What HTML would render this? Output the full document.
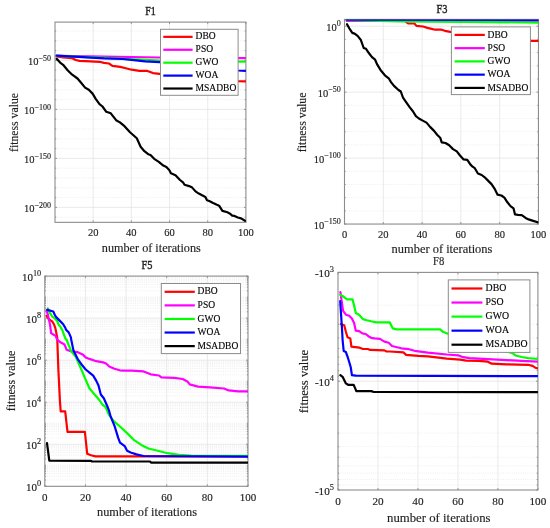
<!DOCTYPE html>
<html><head><meta charset="utf-8"><style>html,body{margin:0;padding:0;background:#fff;}svg{display:block;will-change:transform;}</style></head>
<body>
<svg width="550" height="528" viewBox="0 0 550 528" font-family='"Liberation Serif", serif'>
<style>text{stroke:#1e1e1e;stroke-width:0.15px;paint-order:stroke;}</style>
<rect width="550" height="528" fill="#ffffff"/>
<defs>
<clipPath id="c1"><rect x="55.0" y="22.1" width="190.90" height="200.25"/></clipPath>
<clipPath id="c3"><rect x="344.5" y="19.4" width="193.95" height="204.65"/></clipPath>
<clipPath id="c5"><rect x="44.8" y="276.1" width="203.20" height="210.20"/></clipPath>
<clipPath id="c8"><rect x="338.0" y="272.4" width="199.90" height="217.60"/></clipPath>
</defs>
<line x1="55.0" y1="31.00" x2="245.9" y2="31.00" stroke="#ebebeb" stroke-width="0.8" stroke-dasharray="1,1.2"/>
<line x1="55.0" y1="40.80" x2="245.9" y2="40.80" stroke="#ebebeb" stroke-width="0.8" stroke-dasharray="1,1.2"/>
<line x1="55.0" y1="50.60" x2="245.9" y2="50.60" stroke="#ebebeb" stroke-width="0.8" stroke-dasharray="1,1.2"/>
<line x1="55.0" y1="70.20" x2="245.9" y2="70.20" stroke="#ebebeb" stroke-width="0.8" stroke-dasharray="1,1.2"/>
<line x1="55.0" y1="80.00" x2="245.9" y2="80.00" stroke="#ebebeb" stroke-width="0.8" stroke-dasharray="1,1.2"/>
<line x1="55.0" y1="89.80" x2="245.9" y2="89.80" stroke="#ebebeb" stroke-width="0.8" stroke-dasharray="1,1.2"/>
<line x1="55.0" y1="99.60" x2="245.9" y2="99.60" stroke="#ebebeb" stroke-width="0.8" stroke-dasharray="1,1.2"/>
<line x1="55.0" y1="119.20" x2="245.9" y2="119.20" stroke="#ebebeb" stroke-width="0.8" stroke-dasharray="1,1.2"/>
<line x1="55.0" y1="129.00" x2="245.9" y2="129.00" stroke="#ebebeb" stroke-width="0.8" stroke-dasharray="1,1.2"/>
<line x1="55.0" y1="138.80" x2="245.9" y2="138.80" stroke="#ebebeb" stroke-width="0.8" stroke-dasharray="1,1.2"/>
<line x1="55.0" y1="148.60" x2="245.9" y2="148.60" stroke="#ebebeb" stroke-width="0.8" stroke-dasharray="1,1.2"/>
<line x1="55.0" y1="168.20" x2="245.9" y2="168.20" stroke="#ebebeb" stroke-width="0.8" stroke-dasharray="1,1.2"/>
<line x1="55.0" y1="178.00" x2="245.9" y2="178.00" stroke="#ebebeb" stroke-width="0.8" stroke-dasharray="1,1.2"/>
<line x1="55.0" y1="187.80" x2="245.9" y2="187.80" stroke="#ebebeb" stroke-width="0.8" stroke-dasharray="1,1.2"/>
<line x1="55.0" y1="197.60" x2="245.9" y2="197.60" stroke="#ebebeb" stroke-width="0.8" stroke-dasharray="1,1.2"/>
<line x1="55.0" y1="217.20" x2="245.9" y2="217.20" stroke="#ebebeb" stroke-width="0.8" stroke-dasharray="1,1.2"/>
<line x1="55.0" y1="60.40" x2="245.9" y2="60.40" stroke="#e4e4e4" stroke-width="0.8"/>
<line x1="55.0" y1="109.40" x2="245.9" y2="109.40" stroke="#e4e4e4" stroke-width="0.8"/>
<line x1="55.0" y1="158.40" x2="245.9" y2="158.40" stroke="#e4e4e4" stroke-width="0.8"/>
<line x1="55.0" y1="207.40" x2="245.9" y2="207.40" stroke="#e4e4e4" stroke-width="0.8"/>
<line x1="93.18" y1="22.1" x2="93.18" y2="222.35" stroke="#e4e4e4" stroke-width="0.8"/>
<line x1="131.36" y1="22.1" x2="131.36" y2="222.35" stroke="#e4e4e4" stroke-width="0.8"/>
<line x1="169.54" y1="22.1" x2="169.54" y2="222.35" stroke="#e4e4e4" stroke-width="0.8"/>
<line x1="207.72" y1="22.1" x2="207.72" y2="222.35" stroke="#e4e4e4" stroke-width="0.8"/>
<line x1="55.0" y1="60.40" x2="57.0" y2="60.40" stroke="#8c8c8c" stroke-width="0.9"/>
<line x1="245.9" y1="60.40" x2="243.9" y2="60.40" stroke="#8c8c8c" stroke-width="0.9"/>
<line x1="55.0" y1="109.40" x2="57.0" y2="109.40" stroke="#8c8c8c" stroke-width="0.9"/>
<line x1="245.9" y1="109.40" x2="243.9" y2="109.40" stroke="#8c8c8c" stroke-width="0.9"/>
<line x1="55.0" y1="158.40" x2="57.0" y2="158.40" stroke="#8c8c8c" stroke-width="0.9"/>
<line x1="245.9" y1="158.40" x2="243.9" y2="158.40" stroke="#8c8c8c" stroke-width="0.9"/>
<line x1="55.0" y1="207.40" x2="57.0" y2="207.40" stroke="#8c8c8c" stroke-width="0.9"/>
<line x1="245.9" y1="207.40" x2="243.9" y2="207.40" stroke="#8c8c8c" stroke-width="0.9"/>
<line x1="55.0" y1="31.00" x2="56.2" y2="31.00" stroke="#8c8c8c" stroke-width="0.9"/>
<line x1="245.9" y1="31.00" x2="244.70000000000002" y2="31.00" stroke="#8c8c8c" stroke-width="0.9"/>
<line x1="55.0" y1="40.80" x2="56.2" y2="40.80" stroke="#8c8c8c" stroke-width="0.9"/>
<line x1="245.9" y1="40.80" x2="244.70000000000002" y2="40.80" stroke="#8c8c8c" stroke-width="0.9"/>
<line x1="55.0" y1="50.60" x2="56.2" y2="50.60" stroke="#8c8c8c" stroke-width="0.9"/>
<line x1="245.9" y1="50.60" x2="244.70000000000002" y2="50.60" stroke="#8c8c8c" stroke-width="0.9"/>
<line x1="55.0" y1="70.20" x2="56.2" y2="70.20" stroke="#8c8c8c" stroke-width="0.9"/>
<line x1="245.9" y1="70.20" x2="244.70000000000002" y2="70.20" stroke="#8c8c8c" stroke-width="0.9"/>
<line x1="55.0" y1="80.00" x2="56.2" y2="80.00" stroke="#8c8c8c" stroke-width="0.9"/>
<line x1="245.9" y1="80.00" x2="244.70000000000002" y2="80.00" stroke="#8c8c8c" stroke-width="0.9"/>
<line x1="55.0" y1="89.80" x2="56.2" y2="89.80" stroke="#8c8c8c" stroke-width="0.9"/>
<line x1="245.9" y1="89.80" x2="244.70000000000002" y2="89.80" stroke="#8c8c8c" stroke-width="0.9"/>
<line x1="55.0" y1="99.60" x2="56.2" y2="99.60" stroke="#8c8c8c" stroke-width="0.9"/>
<line x1="245.9" y1="99.60" x2="244.70000000000002" y2="99.60" stroke="#8c8c8c" stroke-width="0.9"/>
<line x1="55.0" y1="119.20" x2="56.2" y2="119.20" stroke="#8c8c8c" stroke-width="0.9"/>
<line x1="245.9" y1="119.20" x2="244.70000000000002" y2="119.20" stroke="#8c8c8c" stroke-width="0.9"/>
<line x1="55.0" y1="129.00" x2="56.2" y2="129.00" stroke="#8c8c8c" stroke-width="0.9"/>
<line x1="245.9" y1="129.00" x2="244.70000000000002" y2="129.00" stroke="#8c8c8c" stroke-width="0.9"/>
<line x1="55.0" y1="138.80" x2="56.2" y2="138.80" stroke="#8c8c8c" stroke-width="0.9"/>
<line x1="245.9" y1="138.80" x2="244.70000000000002" y2="138.80" stroke="#8c8c8c" stroke-width="0.9"/>
<line x1="55.0" y1="148.60" x2="56.2" y2="148.60" stroke="#8c8c8c" stroke-width="0.9"/>
<line x1="245.9" y1="148.60" x2="244.70000000000002" y2="148.60" stroke="#8c8c8c" stroke-width="0.9"/>
<line x1="55.0" y1="168.20" x2="56.2" y2="168.20" stroke="#8c8c8c" stroke-width="0.9"/>
<line x1="245.9" y1="168.20" x2="244.70000000000002" y2="168.20" stroke="#8c8c8c" stroke-width="0.9"/>
<line x1="55.0" y1="178.00" x2="56.2" y2="178.00" stroke="#8c8c8c" stroke-width="0.9"/>
<line x1="245.9" y1="178.00" x2="244.70000000000002" y2="178.00" stroke="#8c8c8c" stroke-width="0.9"/>
<line x1="55.0" y1="187.80" x2="56.2" y2="187.80" stroke="#8c8c8c" stroke-width="0.9"/>
<line x1="245.9" y1="187.80" x2="244.70000000000002" y2="187.80" stroke="#8c8c8c" stroke-width="0.9"/>
<line x1="55.0" y1="197.60" x2="56.2" y2="197.60" stroke="#8c8c8c" stroke-width="0.9"/>
<line x1="245.9" y1="197.60" x2="244.70000000000002" y2="197.60" stroke="#8c8c8c" stroke-width="0.9"/>
<line x1="55.0" y1="217.20" x2="56.2" y2="217.20" stroke="#8c8c8c" stroke-width="0.9"/>
<line x1="245.9" y1="217.20" x2="244.70000000000002" y2="217.20" stroke="#8c8c8c" stroke-width="0.9"/>
<line x1="93.18" y1="222.35" x2="93.18" y2="220.35" stroke="#8c8c8c" stroke-width="0.9"/>
<line x1="93.18" y1="22.1" x2="93.18" y2="24.1" stroke="#8c8c8c" stroke-width="0.9"/>
<line x1="131.36" y1="222.35" x2="131.36" y2="220.35" stroke="#8c8c8c" stroke-width="0.9"/>
<line x1="131.36" y1="22.1" x2="131.36" y2="24.1" stroke="#8c8c8c" stroke-width="0.9"/>
<line x1="169.54" y1="222.35" x2="169.54" y2="220.35" stroke="#8c8c8c" stroke-width="0.9"/>
<line x1="169.54" y1="22.1" x2="169.54" y2="24.1" stroke="#8c8c8c" stroke-width="0.9"/>
<line x1="207.72" y1="222.35" x2="207.72" y2="220.35" stroke="#8c8c8c" stroke-width="0.9"/>
<line x1="207.72" y1="22.1" x2="207.72" y2="24.1" stroke="#8c8c8c" stroke-width="0.9"/>
<line x1="245.90" y1="222.35" x2="245.90" y2="220.35" stroke="#8c8c8c" stroke-width="0.9"/>
<line x1="245.90" y1="22.1" x2="245.90" y2="24.1" stroke="#8c8c8c" stroke-width="0.9"/>
<rect x="55.0" y="22.1" width="190.90" height="200.25" fill="none" stroke="#8c8c8c" stroke-width="1.1"/>
<g clip-path="url(#c1)" fill="none" stroke-width="2.2" stroke-linejoin="round" stroke-linecap="round">
<polyline points="56.7,56.5 63.1,57.3 72.2,58.2 75.8,60.0 79.5,60.9 90.4,61.4 99.5,61.8 104.0,62.9 109.0,63.5 112.4,65.8 120.3,66.9 124.8,68.0 131.6,69.7 139.5,70.9 147.4,70.9 153.0,73.1 159.8,73.9 238.0,81.2 245.7,81.4" stroke="#ff0000"/>
<polyline points="56.7,55.8 90.0,56.4 160.0,57.5 245.7,58.1" stroke="#ff00ff"/>
<polyline points="56.7,55.9 100.0,57.6 160.0,60.7 245.7,61.7" stroke="#00ff00"/>
<polyline points="56.7,55.6 104.0,58.4 122.5,59.0 133.8,60.1 145.1,61.3 159.8,62.2 238.0,70.5 245.7,70.8" stroke="#0000ff"/>
<polyline points="56.7,58.8 60.1,62.6 63.1,64.8 67.6,70.2 72.2,74.7 77.5,78.5 81.3,83.0 85.1,87.6 88.8,89.8 92.6,93.6 95.7,98.9 99.5,104.2 102.5,106.5 106.3,111.8 110.8,113.3 116.1,120.2 119.9,122.4 124.5,126.2 130.0,132.3 136.8,138.3 140.6,146.7 144.4,151.2 148.2,154.2 150.5,155.0 154.2,158.8 158.8,161.8 163.3,165.6 166.4,167.1 169.4,170.2 170.9,173.2 175.5,175.2 180.0,180.0 183.0,182.3 184.5,184.8 189.1,186.1 192.2,187.6 195.5,191.4 198.8,193.6 202.1,195.3 205.4,196.9 207.0,200.2 209.2,201.0 213.1,203.0 216.4,204.6 219.1,205.7 222.4,210.9 227.4,212.3 229.6,213.4 232.3,215.6 234.5,215.9 237.8,217.5 241.1,218.4 245.0,220.8" stroke="#000000"/>
</g>
<rect x="160.5" y="29.3" width="77.60" height="66.00" fill="#ffffff" stroke="#8c8c8c" stroke-width="1"/>
<line x1="163.3" y1="36.85" x2="192.6" y2="36.85" stroke="#ff0000" stroke-width="2.2"/>
<text x="195.6" y="39.05" font-size="9.5" fill="#000">DBO</text>
<line x1="163.3" y1="49.77" x2="192.6" y2="49.77" stroke="#ff00ff" stroke-width="2.2"/>
<text x="195.6" y="51.97" font-size="9.5" fill="#000">PSO</text>
<line x1="163.3" y1="62.69" x2="192.6" y2="62.69" stroke="#00ff00" stroke-width="2.2"/>
<text x="195.6" y="64.89" font-size="9.5" fill="#000">GWO</text>
<line x1="163.3" y1="75.61" x2="192.6" y2="75.61" stroke="#0000ff" stroke-width="2.2"/>
<text x="195.6" y="77.81" font-size="9.5" fill="#000">WOA</text>
<line x1="163.3" y1="88.53" x2="192.6" y2="88.53" stroke="#000000" stroke-width="2.2"/>
<text x="195.6" y="90.73" font-size="9.5" fill="#000">MSADBO</text>
<text x="93.18" y="236.2" text-anchor="middle" font-size="10.5" fill="#1e1e1e">20</text>
<text x="131.36" y="236.2" text-anchor="middle" font-size="10.5" fill="#1e1e1e">40</text>
<text x="169.54" y="236.2" text-anchor="middle" font-size="10.5" fill="#1e1e1e">60</text>
<text x="207.72" y="236.2" text-anchor="middle" font-size="10.5" fill="#1e1e1e">80</text>
<text x="245.90" y="236.2" text-anchor="middle" font-size="10.5" fill="#1e1e1e">100</text>
<text x="50.9" y="65.10" text-anchor="end" font-size="10.5" fill="#1e1e1e">10<tspan dy="-4.6" font-size="8">−50</tspan></text>
<text x="50.9" y="114.10" text-anchor="end" font-size="10.5" fill="#1e1e1e">10<tspan dy="-4.6" font-size="8">−100</tspan></text>
<text x="50.9" y="163.10" text-anchor="end" font-size="10.5" fill="#1e1e1e">10<tspan dy="-4.6" font-size="8">−150</tspan></text>
<text x="50.9" y="212.10" text-anchor="end" font-size="10.5" fill="#1e1e1e">10<tspan dy="-4.6" font-size="8">−200</tspan></text>
<text x="101.80" y="251.5" font-size="12" textLength="99" lengthAdjust="spacingAndGlyphs" fill="#1e1e1e">number of iterations</text>
<text transform="translate(18,122.5) rotate(-90)" x="-29.50" y="0" font-size="12" textLength="59" lengthAdjust="spacingAndGlyphs" fill="#1e1e1e">fitness value</text>
<text transform="translate(150.5,15.3) scale(0.86,1)" text-anchor="middle" font-size="11.6" font-weight="normal" fill="#1e1e1e" style="stroke-width:0.4px">F1</text>
<line x1="344.5" y1="39.39" x2="538.45" y2="39.39" stroke="#ebebeb" stroke-width="0.8" stroke-dasharray="1,1.2"/>
<line x1="344.5" y1="52.58" x2="538.45" y2="52.58" stroke="#ebebeb" stroke-width="0.8" stroke-dasharray="1,1.2"/>
<line x1="344.5" y1="65.77" x2="538.45" y2="65.77" stroke="#ebebeb" stroke-width="0.8" stroke-dasharray="1,1.2"/>
<line x1="344.5" y1="78.96" x2="538.45" y2="78.96" stroke="#ebebeb" stroke-width="0.8" stroke-dasharray="1,1.2"/>
<line x1="344.5" y1="105.34" x2="538.45" y2="105.34" stroke="#ebebeb" stroke-width="0.8" stroke-dasharray="1,1.2"/>
<line x1="344.5" y1="118.53" x2="538.45" y2="118.53" stroke="#ebebeb" stroke-width="0.8" stroke-dasharray="1,1.2"/>
<line x1="344.5" y1="131.72" x2="538.45" y2="131.72" stroke="#ebebeb" stroke-width="0.8" stroke-dasharray="1,1.2"/>
<line x1="344.5" y1="144.91" x2="538.45" y2="144.91" stroke="#ebebeb" stroke-width="0.8" stroke-dasharray="1,1.2"/>
<line x1="344.5" y1="171.29" x2="538.45" y2="171.29" stroke="#ebebeb" stroke-width="0.8" stroke-dasharray="1,1.2"/>
<line x1="344.5" y1="184.48" x2="538.45" y2="184.48" stroke="#ebebeb" stroke-width="0.8" stroke-dasharray="1,1.2"/>
<line x1="344.5" y1="197.67" x2="538.45" y2="197.67" stroke="#ebebeb" stroke-width="0.8" stroke-dasharray="1,1.2"/>
<line x1="344.5" y1="210.86" x2="538.45" y2="210.86" stroke="#ebebeb" stroke-width="0.8" stroke-dasharray="1,1.2"/>
<line x1="344.5" y1="26.20" x2="538.45" y2="26.20" stroke="#e4e4e4" stroke-width="0.8"/>
<line x1="344.5" y1="92.15" x2="538.45" y2="92.15" stroke="#e4e4e4" stroke-width="0.8"/>
<line x1="344.5" y1="158.10" x2="538.45" y2="158.10" stroke="#e4e4e4" stroke-width="0.8"/>
<line x1="383.29" y1="19.4" x2="383.29" y2="224.05" stroke="#e4e4e4" stroke-width="0.8"/>
<line x1="422.08" y1="19.4" x2="422.08" y2="224.05" stroke="#e4e4e4" stroke-width="0.8"/>
<line x1="460.87" y1="19.4" x2="460.87" y2="224.05" stroke="#e4e4e4" stroke-width="0.8"/>
<line x1="499.66" y1="19.4" x2="499.66" y2="224.05" stroke="#e4e4e4" stroke-width="0.8"/>
<line x1="344.5" y1="26.20" x2="346.5" y2="26.20" stroke="#8c8c8c" stroke-width="0.9"/>
<line x1="538.45" y1="26.20" x2="536.45" y2="26.20" stroke="#8c8c8c" stroke-width="0.9"/>
<line x1="344.5" y1="92.15" x2="346.5" y2="92.15" stroke="#8c8c8c" stroke-width="0.9"/>
<line x1="538.45" y1="92.15" x2="536.45" y2="92.15" stroke="#8c8c8c" stroke-width="0.9"/>
<line x1="344.5" y1="158.10" x2="346.5" y2="158.10" stroke="#8c8c8c" stroke-width="0.9"/>
<line x1="538.45" y1="158.10" x2="536.45" y2="158.10" stroke="#8c8c8c" stroke-width="0.9"/>
<line x1="344.5" y1="224.05" x2="346.5" y2="224.05" stroke="#8c8c8c" stroke-width="0.9"/>
<line x1="538.45" y1="224.05" x2="536.45" y2="224.05" stroke="#8c8c8c" stroke-width="0.9"/>
<line x1="344.5" y1="39.39" x2="345.7" y2="39.39" stroke="#8c8c8c" stroke-width="0.9"/>
<line x1="538.45" y1="39.39" x2="537.25" y2="39.39" stroke="#8c8c8c" stroke-width="0.9"/>
<line x1="344.5" y1="52.58" x2="345.7" y2="52.58" stroke="#8c8c8c" stroke-width="0.9"/>
<line x1="538.45" y1="52.58" x2="537.25" y2="52.58" stroke="#8c8c8c" stroke-width="0.9"/>
<line x1="344.5" y1="65.77" x2="345.7" y2="65.77" stroke="#8c8c8c" stroke-width="0.9"/>
<line x1="538.45" y1="65.77" x2="537.25" y2="65.77" stroke="#8c8c8c" stroke-width="0.9"/>
<line x1="344.5" y1="78.96" x2="345.7" y2="78.96" stroke="#8c8c8c" stroke-width="0.9"/>
<line x1="538.45" y1="78.96" x2="537.25" y2="78.96" stroke="#8c8c8c" stroke-width="0.9"/>
<line x1="344.5" y1="105.34" x2="345.7" y2="105.34" stroke="#8c8c8c" stroke-width="0.9"/>
<line x1="538.45" y1="105.34" x2="537.25" y2="105.34" stroke="#8c8c8c" stroke-width="0.9"/>
<line x1="344.5" y1="118.53" x2="345.7" y2="118.53" stroke="#8c8c8c" stroke-width="0.9"/>
<line x1="538.45" y1="118.53" x2="537.25" y2="118.53" stroke="#8c8c8c" stroke-width="0.9"/>
<line x1="344.5" y1="131.72" x2="345.7" y2="131.72" stroke="#8c8c8c" stroke-width="0.9"/>
<line x1="538.45" y1="131.72" x2="537.25" y2="131.72" stroke="#8c8c8c" stroke-width="0.9"/>
<line x1="344.5" y1="144.91" x2="345.7" y2="144.91" stroke="#8c8c8c" stroke-width="0.9"/>
<line x1="538.45" y1="144.91" x2="537.25" y2="144.91" stroke="#8c8c8c" stroke-width="0.9"/>
<line x1="344.5" y1="171.29" x2="345.7" y2="171.29" stroke="#8c8c8c" stroke-width="0.9"/>
<line x1="538.45" y1="171.29" x2="537.25" y2="171.29" stroke="#8c8c8c" stroke-width="0.9"/>
<line x1="344.5" y1="184.48" x2="345.7" y2="184.48" stroke="#8c8c8c" stroke-width="0.9"/>
<line x1="538.45" y1="184.48" x2="537.25" y2="184.48" stroke="#8c8c8c" stroke-width="0.9"/>
<line x1="344.5" y1="197.67" x2="345.7" y2="197.67" stroke="#8c8c8c" stroke-width="0.9"/>
<line x1="538.45" y1="197.67" x2="537.25" y2="197.67" stroke="#8c8c8c" stroke-width="0.9"/>
<line x1="344.5" y1="210.86" x2="345.7" y2="210.86" stroke="#8c8c8c" stroke-width="0.9"/>
<line x1="538.45" y1="210.86" x2="537.25" y2="210.86" stroke="#8c8c8c" stroke-width="0.9"/>
<line x1="344.50" y1="224.05" x2="344.50" y2="222.05" stroke="#8c8c8c" stroke-width="0.9"/>
<line x1="344.50" y1="19.4" x2="344.50" y2="21.4" stroke="#8c8c8c" stroke-width="0.9"/>
<line x1="383.29" y1="224.05" x2="383.29" y2="222.05" stroke="#8c8c8c" stroke-width="0.9"/>
<line x1="383.29" y1="19.4" x2="383.29" y2="21.4" stroke="#8c8c8c" stroke-width="0.9"/>
<line x1="422.08" y1="224.05" x2="422.08" y2="222.05" stroke="#8c8c8c" stroke-width="0.9"/>
<line x1="422.08" y1="19.4" x2="422.08" y2="21.4" stroke="#8c8c8c" stroke-width="0.9"/>
<line x1="460.87" y1="224.05" x2="460.87" y2="222.05" stroke="#8c8c8c" stroke-width="0.9"/>
<line x1="460.87" y1="19.4" x2="460.87" y2="21.4" stroke="#8c8c8c" stroke-width="0.9"/>
<line x1="499.66" y1="224.05" x2="499.66" y2="222.05" stroke="#8c8c8c" stroke-width="0.9"/>
<line x1="499.66" y1="19.4" x2="499.66" y2="21.4" stroke="#8c8c8c" stroke-width="0.9"/>
<line x1="538.45" y1="224.05" x2="538.45" y2="222.05" stroke="#8c8c8c" stroke-width="0.9"/>
<line x1="538.45" y1="19.4" x2="538.45" y2="21.4" stroke="#8c8c8c" stroke-width="0.9"/>
<rect x="344.5" y="19.4" width="193.95" height="204.65" fill="none" stroke="#8c8c8c" stroke-width="1.1"/>
<g clip-path="url(#c3)" fill="none" stroke-width="2.2" stroke-linejoin="round" stroke-linecap="round">
<polyline points="346.7,20.7 405.3,20.9 406.2,22.1 408.4,23.5 414.4,23.5 416.5,25.9 423.1,26.5 427.4,27.9 430.7,28.6 435.1,29.7 441.6,29.7 444.9,30.8 450.3,31.9 452.0,32.1 532.0,40.9 538.5,40.9" stroke="#ff0000"/>
<polyline points="346.7,20.6 465.0,20.8 538.5,21.2" stroke="#ff00ff"/>
<polyline points="346.7,19.9 380.0,20.8 400.0,21.3 465.0,21.8 538.5,22.6" stroke="#00ff00"/>
<polyline points="346.7,19.6 538.5,19.9" stroke="#0000ff"/>
<polyline points="347.0,24.2 349.3,28.3 352.3,32.9 354.6,33.6 357.6,35.9 360.7,39.7 363.7,48.0 366.0,48.8 369.0,53.3 372.0,57.1 375.1,59.7 377.3,64.7 381.1,70.8 384.9,75.3 388.7,78.3 391.0,82.1 394.0,85.9 398.5,90.0 400.8,91.5 403.0,97.6 406.1,102.1 409.8,107.4 412.9,111.2 415.9,116.1 418.9,118.5 422.7,120.6 426.5,122.6 430.3,127.1 434.1,130.9 437.1,134.7 440.2,137.7 441.7,142.3 445.5,143.0 449.2,145.3 453.0,149.1 456.8,151.4 459.8,155.2 463.6,159.4 467.3,159.8 470.3,164.4 472.6,166.7 474.8,168.2 477.9,173.5 481.7,175.0 484.7,177.3 488.5,181.1 491.5,184.1 494.5,188.6 497.6,194.7 501.4,195.5 504.4,197.7 507.4,202.3 510.5,206.1 513.5,208.3 515.0,214.4 518.0,214.8 521.8,215.2 525.6,217.9 528.6,219.4 533.2,220.9 537.7,222.3" stroke="#000000"/>
</g>
<rect x="451.4" y="26.9" width="79.00" height="67.70" fill="#ffffff" stroke="#8c8c8c" stroke-width="1"/>
<line x1="454.6" y1="34.90" x2="484.8" y2="34.90" stroke="#ff0000" stroke-width="2.2"/>
<text x="487.6" y="37.70" font-size="9.5" fill="#000">DBO</text>
<line x1="454.6" y1="48.15" x2="484.8" y2="48.15" stroke="#ff00ff" stroke-width="2.2"/>
<text x="487.6" y="50.95" font-size="9.5" fill="#000">PSO</text>
<line x1="454.6" y1="61.40" x2="484.8" y2="61.40" stroke="#00ff00" stroke-width="2.2"/>
<text x="487.6" y="64.20" font-size="9.5" fill="#000">GWO</text>
<line x1="454.6" y1="74.65" x2="484.8" y2="74.65" stroke="#0000ff" stroke-width="2.2"/>
<text x="487.6" y="77.45" font-size="9.5" fill="#000">WOA</text>
<line x1="454.6" y1="87.90" x2="484.8" y2="87.90" stroke="#000000" stroke-width="2.2"/>
<text x="487.6" y="90.70" font-size="9.5" fill="#000">MSADBO</text>
<text x="344.50" y="238.1" text-anchor="middle" font-size="10.5" fill="#1e1e1e">0</text>
<text x="383.29" y="238.1" text-anchor="middle" font-size="10.5" fill="#1e1e1e">20</text>
<text x="422.08" y="238.1" text-anchor="middle" font-size="10.5" fill="#1e1e1e">40</text>
<text x="460.87" y="238.1" text-anchor="middle" font-size="10.5" fill="#1e1e1e">60</text>
<text x="499.66" y="238.1" text-anchor="middle" font-size="10.5" fill="#1e1e1e">80</text>
<text x="538.45" y="238.1" text-anchor="middle" font-size="10.5" fill="#1e1e1e">100</text>
<text x="340.8" y="30.90" text-anchor="end" font-size="10.5" fill="#1e1e1e">10<tspan dy="-4.6" font-size="8">0</tspan></text>
<text x="340.8" y="96.85" text-anchor="end" font-size="10.5" fill="#1e1e1e">10<tspan dy="-4.6" font-size="8">−50</tspan></text>
<text x="340.8" y="162.80" text-anchor="end" font-size="10.5" fill="#1e1e1e">10<tspan dy="-4.6" font-size="8">−100</tspan></text>
<text x="340.8" y="228.75" text-anchor="end" font-size="10.5" fill="#1e1e1e">10<tspan dy="-4.6" font-size="8">−150</tspan></text>
<text x="391.60" y="252.9" font-size="12" textLength="100.8" lengthAdjust="spacingAndGlyphs" fill="#1e1e1e">number of iterations</text>
<text transform="translate(305.5,122.3) rotate(-90)" x="-29.85" y="0" font-size="12" textLength="59.7" lengthAdjust="spacingAndGlyphs" fill="#1e1e1e">fitness value</text>
<text transform="translate(442,13.0) scale(0.88,1)" text-anchor="middle" font-size="11.8" font-weight="normal" fill="#1e1e1e" style="stroke-width:0.4px">F3</text>
<line x1="44.8" y1="479.97" x2="248.0" y2="479.97" stroke="#ebebeb" stroke-width="0.8" stroke-dasharray="1,1.2"/>
<line x1="44.8" y1="476.27" x2="248.0" y2="476.27" stroke="#ebebeb" stroke-width="0.8" stroke-dasharray="1,1.2"/>
<line x1="44.8" y1="473.64" x2="248.0" y2="473.64" stroke="#ebebeb" stroke-width="0.8" stroke-dasharray="1,1.2"/>
<line x1="44.8" y1="471.61" x2="248.0" y2="471.61" stroke="#ebebeb" stroke-width="0.8" stroke-dasharray="1,1.2"/>
<line x1="44.8" y1="469.94" x2="248.0" y2="469.94" stroke="#ebebeb" stroke-width="0.8" stroke-dasharray="1,1.2"/>
<line x1="44.8" y1="468.54" x2="248.0" y2="468.54" stroke="#ebebeb" stroke-width="0.8" stroke-dasharray="1,1.2"/>
<line x1="44.8" y1="467.32" x2="248.0" y2="467.32" stroke="#ebebeb" stroke-width="0.8" stroke-dasharray="1,1.2"/>
<line x1="44.8" y1="466.24" x2="248.0" y2="466.24" stroke="#ebebeb" stroke-width="0.8" stroke-dasharray="1,1.2"/>
<line x1="44.8" y1="458.95" x2="248.0" y2="458.95" stroke="#ebebeb" stroke-width="0.8" stroke-dasharray="1,1.2"/>
<line x1="44.8" y1="455.25" x2="248.0" y2="455.25" stroke="#ebebeb" stroke-width="0.8" stroke-dasharray="1,1.2"/>
<line x1="44.8" y1="452.62" x2="248.0" y2="452.62" stroke="#ebebeb" stroke-width="0.8" stroke-dasharray="1,1.2"/>
<line x1="44.8" y1="450.59" x2="248.0" y2="450.59" stroke="#ebebeb" stroke-width="0.8" stroke-dasharray="1,1.2"/>
<line x1="44.8" y1="448.92" x2="248.0" y2="448.92" stroke="#ebebeb" stroke-width="0.8" stroke-dasharray="1,1.2"/>
<line x1="44.8" y1="447.52" x2="248.0" y2="447.52" stroke="#ebebeb" stroke-width="0.8" stroke-dasharray="1,1.2"/>
<line x1="44.8" y1="446.30" x2="248.0" y2="446.30" stroke="#ebebeb" stroke-width="0.8" stroke-dasharray="1,1.2"/>
<line x1="44.8" y1="445.22" x2="248.0" y2="445.22" stroke="#ebebeb" stroke-width="0.8" stroke-dasharray="1,1.2"/>
<line x1="44.8" y1="465.28" x2="248.0" y2="465.28" stroke="#ebebeb" stroke-width="0.8" stroke-dasharray="1,1.2"/>
<line x1="44.8" y1="437.93" x2="248.0" y2="437.93" stroke="#ebebeb" stroke-width="0.8" stroke-dasharray="1,1.2"/>
<line x1="44.8" y1="434.23" x2="248.0" y2="434.23" stroke="#ebebeb" stroke-width="0.8" stroke-dasharray="1,1.2"/>
<line x1="44.8" y1="431.60" x2="248.0" y2="431.60" stroke="#ebebeb" stroke-width="0.8" stroke-dasharray="1,1.2"/>
<line x1="44.8" y1="429.57" x2="248.0" y2="429.57" stroke="#ebebeb" stroke-width="0.8" stroke-dasharray="1,1.2"/>
<line x1="44.8" y1="427.90" x2="248.0" y2="427.90" stroke="#ebebeb" stroke-width="0.8" stroke-dasharray="1,1.2"/>
<line x1="44.8" y1="426.50" x2="248.0" y2="426.50" stroke="#ebebeb" stroke-width="0.8" stroke-dasharray="1,1.2"/>
<line x1="44.8" y1="425.28" x2="248.0" y2="425.28" stroke="#ebebeb" stroke-width="0.8" stroke-dasharray="1,1.2"/>
<line x1="44.8" y1="424.20" x2="248.0" y2="424.20" stroke="#ebebeb" stroke-width="0.8" stroke-dasharray="1,1.2"/>
<line x1="44.8" y1="416.91" x2="248.0" y2="416.91" stroke="#ebebeb" stroke-width="0.8" stroke-dasharray="1,1.2"/>
<line x1="44.8" y1="413.21" x2="248.0" y2="413.21" stroke="#ebebeb" stroke-width="0.8" stroke-dasharray="1,1.2"/>
<line x1="44.8" y1="410.58" x2="248.0" y2="410.58" stroke="#ebebeb" stroke-width="0.8" stroke-dasharray="1,1.2"/>
<line x1="44.8" y1="408.55" x2="248.0" y2="408.55" stroke="#ebebeb" stroke-width="0.8" stroke-dasharray="1,1.2"/>
<line x1="44.8" y1="406.88" x2="248.0" y2="406.88" stroke="#ebebeb" stroke-width="0.8" stroke-dasharray="1,1.2"/>
<line x1="44.8" y1="405.48" x2="248.0" y2="405.48" stroke="#ebebeb" stroke-width="0.8" stroke-dasharray="1,1.2"/>
<line x1="44.8" y1="404.26" x2="248.0" y2="404.26" stroke="#ebebeb" stroke-width="0.8" stroke-dasharray="1,1.2"/>
<line x1="44.8" y1="403.18" x2="248.0" y2="403.18" stroke="#ebebeb" stroke-width="0.8" stroke-dasharray="1,1.2"/>
<line x1="44.8" y1="423.24" x2="248.0" y2="423.24" stroke="#ebebeb" stroke-width="0.8" stroke-dasharray="1,1.2"/>
<line x1="44.8" y1="395.89" x2="248.0" y2="395.89" stroke="#ebebeb" stroke-width="0.8" stroke-dasharray="1,1.2"/>
<line x1="44.8" y1="392.19" x2="248.0" y2="392.19" stroke="#ebebeb" stroke-width="0.8" stroke-dasharray="1,1.2"/>
<line x1="44.8" y1="389.56" x2="248.0" y2="389.56" stroke="#ebebeb" stroke-width="0.8" stroke-dasharray="1,1.2"/>
<line x1="44.8" y1="387.53" x2="248.0" y2="387.53" stroke="#ebebeb" stroke-width="0.8" stroke-dasharray="1,1.2"/>
<line x1="44.8" y1="385.86" x2="248.0" y2="385.86" stroke="#ebebeb" stroke-width="0.8" stroke-dasharray="1,1.2"/>
<line x1="44.8" y1="384.46" x2="248.0" y2="384.46" stroke="#ebebeb" stroke-width="0.8" stroke-dasharray="1,1.2"/>
<line x1="44.8" y1="383.24" x2="248.0" y2="383.24" stroke="#ebebeb" stroke-width="0.8" stroke-dasharray="1,1.2"/>
<line x1="44.8" y1="382.16" x2="248.0" y2="382.16" stroke="#ebebeb" stroke-width="0.8" stroke-dasharray="1,1.2"/>
<line x1="44.8" y1="374.87" x2="248.0" y2="374.87" stroke="#ebebeb" stroke-width="0.8" stroke-dasharray="1,1.2"/>
<line x1="44.8" y1="371.17" x2="248.0" y2="371.17" stroke="#ebebeb" stroke-width="0.8" stroke-dasharray="1,1.2"/>
<line x1="44.8" y1="368.54" x2="248.0" y2="368.54" stroke="#ebebeb" stroke-width="0.8" stroke-dasharray="1,1.2"/>
<line x1="44.8" y1="366.51" x2="248.0" y2="366.51" stroke="#ebebeb" stroke-width="0.8" stroke-dasharray="1,1.2"/>
<line x1="44.8" y1="364.84" x2="248.0" y2="364.84" stroke="#ebebeb" stroke-width="0.8" stroke-dasharray="1,1.2"/>
<line x1="44.8" y1="363.44" x2="248.0" y2="363.44" stroke="#ebebeb" stroke-width="0.8" stroke-dasharray="1,1.2"/>
<line x1="44.8" y1="362.22" x2="248.0" y2="362.22" stroke="#ebebeb" stroke-width="0.8" stroke-dasharray="1,1.2"/>
<line x1="44.8" y1="361.14" x2="248.0" y2="361.14" stroke="#ebebeb" stroke-width="0.8" stroke-dasharray="1,1.2"/>
<line x1="44.8" y1="381.20" x2="248.0" y2="381.20" stroke="#ebebeb" stroke-width="0.8" stroke-dasharray="1,1.2"/>
<line x1="44.8" y1="353.85" x2="248.0" y2="353.85" stroke="#ebebeb" stroke-width="0.8" stroke-dasharray="1,1.2"/>
<line x1="44.8" y1="350.15" x2="248.0" y2="350.15" stroke="#ebebeb" stroke-width="0.8" stroke-dasharray="1,1.2"/>
<line x1="44.8" y1="347.52" x2="248.0" y2="347.52" stroke="#ebebeb" stroke-width="0.8" stroke-dasharray="1,1.2"/>
<line x1="44.8" y1="345.49" x2="248.0" y2="345.49" stroke="#ebebeb" stroke-width="0.8" stroke-dasharray="1,1.2"/>
<line x1="44.8" y1="343.82" x2="248.0" y2="343.82" stroke="#ebebeb" stroke-width="0.8" stroke-dasharray="1,1.2"/>
<line x1="44.8" y1="342.42" x2="248.0" y2="342.42" stroke="#ebebeb" stroke-width="0.8" stroke-dasharray="1,1.2"/>
<line x1="44.8" y1="341.20" x2="248.0" y2="341.20" stroke="#ebebeb" stroke-width="0.8" stroke-dasharray="1,1.2"/>
<line x1="44.8" y1="340.12" x2="248.0" y2="340.12" stroke="#ebebeb" stroke-width="0.8" stroke-dasharray="1,1.2"/>
<line x1="44.8" y1="332.83" x2="248.0" y2="332.83" stroke="#ebebeb" stroke-width="0.8" stroke-dasharray="1,1.2"/>
<line x1="44.8" y1="329.13" x2="248.0" y2="329.13" stroke="#ebebeb" stroke-width="0.8" stroke-dasharray="1,1.2"/>
<line x1="44.8" y1="326.50" x2="248.0" y2="326.50" stroke="#ebebeb" stroke-width="0.8" stroke-dasharray="1,1.2"/>
<line x1="44.8" y1="324.47" x2="248.0" y2="324.47" stroke="#ebebeb" stroke-width="0.8" stroke-dasharray="1,1.2"/>
<line x1="44.8" y1="322.80" x2="248.0" y2="322.80" stroke="#ebebeb" stroke-width="0.8" stroke-dasharray="1,1.2"/>
<line x1="44.8" y1="321.40" x2="248.0" y2="321.40" stroke="#ebebeb" stroke-width="0.8" stroke-dasharray="1,1.2"/>
<line x1="44.8" y1="320.18" x2="248.0" y2="320.18" stroke="#ebebeb" stroke-width="0.8" stroke-dasharray="1,1.2"/>
<line x1="44.8" y1="319.10" x2="248.0" y2="319.10" stroke="#ebebeb" stroke-width="0.8" stroke-dasharray="1,1.2"/>
<line x1="44.8" y1="339.16" x2="248.0" y2="339.16" stroke="#ebebeb" stroke-width="0.8" stroke-dasharray="1,1.2"/>
<line x1="44.8" y1="311.81" x2="248.0" y2="311.81" stroke="#ebebeb" stroke-width="0.8" stroke-dasharray="1,1.2"/>
<line x1="44.8" y1="308.11" x2="248.0" y2="308.11" stroke="#ebebeb" stroke-width="0.8" stroke-dasharray="1,1.2"/>
<line x1="44.8" y1="305.48" x2="248.0" y2="305.48" stroke="#ebebeb" stroke-width="0.8" stroke-dasharray="1,1.2"/>
<line x1="44.8" y1="303.45" x2="248.0" y2="303.45" stroke="#ebebeb" stroke-width="0.8" stroke-dasharray="1,1.2"/>
<line x1="44.8" y1="301.78" x2="248.0" y2="301.78" stroke="#ebebeb" stroke-width="0.8" stroke-dasharray="1,1.2"/>
<line x1="44.8" y1="300.38" x2="248.0" y2="300.38" stroke="#ebebeb" stroke-width="0.8" stroke-dasharray="1,1.2"/>
<line x1="44.8" y1="299.16" x2="248.0" y2="299.16" stroke="#ebebeb" stroke-width="0.8" stroke-dasharray="1,1.2"/>
<line x1="44.8" y1="298.08" x2="248.0" y2="298.08" stroke="#ebebeb" stroke-width="0.8" stroke-dasharray="1,1.2"/>
<line x1="44.8" y1="290.79" x2="248.0" y2="290.79" stroke="#ebebeb" stroke-width="0.8" stroke-dasharray="1,1.2"/>
<line x1="44.8" y1="287.09" x2="248.0" y2="287.09" stroke="#ebebeb" stroke-width="0.8" stroke-dasharray="1,1.2"/>
<line x1="44.8" y1="284.46" x2="248.0" y2="284.46" stroke="#ebebeb" stroke-width="0.8" stroke-dasharray="1,1.2"/>
<line x1="44.8" y1="282.43" x2="248.0" y2="282.43" stroke="#ebebeb" stroke-width="0.8" stroke-dasharray="1,1.2"/>
<line x1="44.8" y1="280.76" x2="248.0" y2="280.76" stroke="#ebebeb" stroke-width="0.8" stroke-dasharray="1,1.2"/>
<line x1="44.8" y1="279.36" x2="248.0" y2="279.36" stroke="#ebebeb" stroke-width="0.8" stroke-dasharray="1,1.2"/>
<line x1="44.8" y1="278.14" x2="248.0" y2="278.14" stroke="#ebebeb" stroke-width="0.8" stroke-dasharray="1,1.2"/>
<line x1="44.8" y1="277.06" x2="248.0" y2="277.06" stroke="#ebebeb" stroke-width="0.8" stroke-dasharray="1,1.2"/>
<line x1="44.8" y1="297.12" x2="248.0" y2="297.12" stroke="#ebebeb" stroke-width="0.8" stroke-dasharray="1,1.2"/>
<line x1="44.8" y1="318.14" x2="248.0" y2="318.14" stroke="#e4e4e4" stroke-width="0.8"/>
<line x1="44.8" y1="360.18" x2="248.0" y2="360.18" stroke="#e4e4e4" stroke-width="0.8"/>
<line x1="44.8" y1="402.22" x2="248.0" y2="402.22" stroke="#e4e4e4" stroke-width="0.8"/>
<line x1="44.8" y1="444.26" x2="248.0" y2="444.26" stroke="#e4e4e4" stroke-width="0.8"/>
<line x1="85.44" y1="276.1" x2="85.44" y2="486.3" stroke="#e4e4e4" stroke-width="0.8"/>
<line x1="126.08" y1="276.1" x2="126.08" y2="486.3" stroke="#e4e4e4" stroke-width="0.8"/>
<line x1="166.72" y1="276.1" x2="166.72" y2="486.3" stroke="#e4e4e4" stroke-width="0.8"/>
<line x1="207.36" y1="276.1" x2="207.36" y2="486.3" stroke="#e4e4e4" stroke-width="0.8"/>
<line x1="44.8" y1="276.10" x2="46.8" y2="276.10" stroke="#8c8c8c" stroke-width="0.9"/>
<line x1="248.0" y1="276.10" x2="246.0" y2="276.10" stroke="#8c8c8c" stroke-width="0.9"/>
<line x1="44.8" y1="318.14" x2="46.8" y2="318.14" stroke="#8c8c8c" stroke-width="0.9"/>
<line x1="248.0" y1="318.14" x2="246.0" y2="318.14" stroke="#8c8c8c" stroke-width="0.9"/>
<line x1="44.8" y1="360.18" x2="46.8" y2="360.18" stroke="#8c8c8c" stroke-width="0.9"/>
<line x1="248.0" y1="360.18" x2="246.0" y2="360.18" stroke="#8c8c8c" stroke-width="0.9"/>
<line x1="44.8" y1="402.22" x2="46.8" y2="402.22" stroke="#8c8c8c" stroke-width="0.9"/>
<line x1="248.0" y1="402.22" x2="246.0" y2="402.22" stroke="#8c8c8c" stroke-width="0.9"/>
<line x1="44.8" y1="444.26" x2="46.8" y2="444.26" stroke="#8c8c8c" stroke-width="0.9"/>
<line x1="248.0" y1="444.26" x2="246.0" y2="444.26" stroke="#8c8c8c" stroke-width="0.9"/>
<line x1="44.8" y1="486.30" x2="46.8" y2="486.30" stroke="#8c8c8c" stroke-width="0.9"/>
<line x1="248.0" y1="486.30" x2="246.0" y2="486.30" stroke="#8c8c8c" stroke-width="0.9"/>
<line x1="44.8" y1="479.97" x2="46.0" y2="479.97" stroke="#8c8c8c" stroke-width="0.9"/>
<line x1="248.0" y1="479.97" x2="246.8" y2="479.97" stroke="#8c8c8c" stroke-width="0.9"/>
<line x1="44.8" y1="476.27" x2="46.0" y2="476.27" stroke="#8c8c8c" stroke-width="0.9"/>
<line x1="248.0" y1="476.27" x2="246.8" y2="476.27" stroke="#8c8c8c" stroke-width="0.9"/>
<line x1="44.8" y1="473.64" x2="46.0" y2="473.64" stroke="#8c8c8c" stroke-width="0.9"/>
<line x1="248.0" y1="473.64" x2="246.8" y2="473.64" stroke="#8c8c8c" stroke-width="0.9"/>
<line x1="44.8" y1="471.61" x2="46.0" y2="471.61" stroke="#8c8c8c" stroke-width="0.9"/>
<line x1="248.0" y1="471.61" x2="246.8" y2="471.61" stroke="#8c8c8c" stroke-width="0.9"/>
<line x1="44.8" y1="469.94" x2="46.0" y2="469.94" stroke="#8c8c8c" stroke-width="0.9"/>
<line x1="248.0" y1="469.94" x2="246.8" y2="469.94" stroke="#8c8c8c" stroke-width="0.9"/>
<line x1="44.8" y1="468.54" x2="46.0" y2="468.54" stroke="#8c8c8c" stroke-width="0.9"/>
<line x1="248.0" y1="468.54" x2="246.8" y2="468.54" stroke="#8c8c8c" stroke-width="0.9"/>
<line x1="44.8" y1="467.32" x2="46.0" y2="467.32" stroke="#8c8c8c" stroke-width="0.9"/>
<line x1="248.0" y1="467.32" x2="246.8" y2="467.32" stroke="#8c8c8c" stroke-width="0.9"/>
<line x1="44.8" y1="466.24" x2="46.0" y2="466.24" stroke="#8c8c8c" stroke-width="0.9"/>
<line x1="248.0" y1="466.24" x2="246.8" y2="466.24" stroke="#8c8c8c" stroke-width="0.9"/>
<line x1="44.8" y1="458.95" x2="46.0" y2="458.95" stroke="#8c8c8c" stroke-width="0.9"/>
<line x1="248.0" y1="458.95" x2="246.8" y2="458.95" stroke="#8c8c8c" stroke-width="0.9"/>
<line x1="44.8" y1="455.25" x2="46.0" y2="455.25" stroke="#8c8c8c" stroke-width="0.9"/>
<line x1="248.0" y1="455.25" x2="246.8" y2="455.25" stroke="#8c8c8c" stroke-width="0.9"/>
<line x1="44.8" y1="452.62" x2="46.0" y2="452.62" stroke="#8c8c8c" stroke-width="0.9"/>
<line x1="248.0" y1="452.62" x2="246.8" y2="452.62" stroke="#8c8c8c" stroke-width="0.9"/>
<line x1="44.8" y1="450.59" x2="46.0" y2="450.59" stroke="#8c8c8c" stroke-width="0.9"/>
<line x1="248.0" y1="450.59" x2="246.8" y2="450.59" stroke="#8c8c8c" stroke-width="0.9"/>
<line x1="44.8" y1="448.92" x2="46.0" y2="448.92" stroke="#8c8c8c" stroke-width="0.9"/>
<line x1="248.0" y1="448.92" x2="246.8" y2="448.92" stroke="#8c8c8c" stroke-width="0.9"/>
<line x1="44.8" y1="447.52" x2="46.0" y2="447.52" stroke="#8c8c8c" stroke-width="0.9"/>
<line x1="248.0" y1="447.52" x2="246.8" y2="447.52" stroke="#8c8c8c" stroke-width="0.9"/>
<line x1="44.8" y1="446.30" x2="46.0" y2="446.30" stroke="#8c8c8c" stroke-width="0.9"/>
<line x1="248.0" y1="446.30" x2="246.8" y2="446.30" stroke="#8c8c8c" stroke-width="0.9"/>
<line x1="44.8" y1="445.22" x2="46.0" y2="445.22" stroke="#8c8c8c" stroke-width="0.9"/>
<line x1="248.0" y1="445.22" x2="246.8" y2="445.22" stroke="#8c8c8c" stroke-width="0.9"/>
<line x1="44.8" y1="465.28" x2="46.0" y2="465.28" stroke="#8c8c8c" stroke-width="0.9"/>
<line x1="248.0" y1="465.28" x2="246.8" y2="465.28" stroke="#8c8c8c" stroke-width="0.9"/>
<line x1="44.8" y1="437.93" x2="46.0" y2="437.93" stroke="#8c8c8c" stroke-width="0.9"/>
<line x1="248.0" y1="437.93" x2="246.8" y2="437.93" stroke="#8c8c8c" stroke-width="0.9"/>
<line x1="44.8" y1="434.23" x2="46.0" y2="434.23" stroke="#8c8c8c" stroke-width="0.9"/>
<line x1="248.0" y1="434.23" x2="246.8" y2="434.23" stroke="#8c8c8c" stroke-width="0.9"/>
<line x1="44.8" y1="431.60" x2="46.0" y2="431.60" stroke="#8c8c8c" stroke-width="0.9"/>
<line x1="248.0" y1="431.60" x2="246.8" y2="431.60" stroke="#8c8c8c" stroke-width="0.9"/>
<line x1="44.8" y1="429.57" x2="46.0" y2="429.57" stroke="#8c8c8c" stroke-width="0.9"/>
<line x1="248.0" y1="429.57" x2="246.8" y2="429.57" stroke="#8c8c8c" stroke-width="0.9"/>
<line x1="44.8" y1="427.90" x2="46.0" y2="427.90" stroke="#8c8c8c" stroke-width="0.9"/>
<line x1="248.0" y1="427.90" x2="246.8" y2="427.90" stroke="#8c8c8c" stroke-width="0.9"/>
<line x1="44.8" y1="426.50" x2="46.0" y2="426.50" stroke="#8c8c8c" stroke-width="0.9"/>
<line x1="248.0" y1="426.50" x2="246.8" y2="426.50" stroke="#8c8c8c" stroke-width="0.9"/>
<line x1="44.8" y1="425.28" x2="46.0" y2="425.28" stroke="#8c8c8c" stroke-width="0.9"/>
<line x1="248.0" y1="425.28" x2="246.8" y2="425.28" stroke="#8c8c8c" stroke-width="0.9"/>
<line x1="44.8" y1="424.20" x2="46.0" y2="424.20" stroke="#8c8c8c" stroke-width="0.9"/>
<line x1="248.0" y1="424.20" x2="246.8" y2="424.20" stroke="#8c8c8c" stroke-width="0.9"/>
<line x1="44.8" y1="416.91" x2="46.0" y2="416.91" stroke="#8c8c8c" stroke-width="0.9"/>
<line x1="248.0" y1="416.91" x2="246.8" y2="416.91" stroke="#8c8c8c" stroke-width="0.9"/>
<line x1="44.8" y1="413.21" x2="46.0" y2="413.21" stroke="#8c8c8c" stroke-width="0.9"/>
<line x1="248.0" y1="413.21" x2="246.8" y2="413.21" stroke="#8c8c8c" stroke-width="0.9"/>
<line x1="44.8" y1="410.58" x2="46.0" y2="410.58" stroke="#8c8c8c" stroke-width="0.9"/>
<line x1="248.0" y1="410.58" x2="246.8" y2="410.58" stroke="#8c8c8c" stroke-width="0.9"/>
<line x1="44.8" y1="408.55" x2="46.0" y2="408.55" stroke="#8c8c8c" stroke-width="0.9"/>
<line x1="248.0" y1="408.55" x2="246.8" y2="408.55" stroke="#8c8c8c" stroke-width="0.9"/>
<line x1="44.8" y1="406.88" x2="46.0" y2="406.88" stroke="#8c8c8c" stroke-width="0.9"/>
<line x1="248.0" y1="406.88" x2="246.8" y2="406.88" stroke="#8c8c8c" stroke-width="0.9"/>
<line x1="44.8" y1="405.48" x2="46.0" y2="405.48" stroke="#8c8c8c" stroke-width="0.9"/>
<line x1="248.0" y1="405.48" x2="246.8" y2="405.48" stroke="#8c8c8c" stroke-width="0.9"/>
<line x1="44.8" y1="404.26" x2="46.0" y2="404.26" stroke="#8c8c8c" stroke-width="0.9"/>
<line x1="248.0" y1="404.26" x2="246.8" y2="404.26" stroke="#8c8c8c" stroke-width="0.9"/>
<line x1="44.8" y1="403.18" x2="46.0" y2="403.18" stroke="#8c8c8c" stroke-width="0.9"/>
<line x1="248.0" y1="403.18" x2="246.8" y2="403.18" stroke="#8c8c8c" stroke-width="0.9"/>
<line x1="44.8" y1="423.24" x2="46.0" y2="423.24" stroke="#8c8c8c" stroke-width="0.9"/>
<line x1="248.0" y1="423.24" x2="246.8" y2="423.24" stroke="#8c8c8c" stroke-width="0.9"/>
<line x1="44.8" y1="395.89" x2="46.0" y2="395.89" stroke="#8c8c8c" stroke-width="0.9"/>
<line x1="248.0" y1="395.89" x2="246.8" y2="395.89" stroke="#8c8c8c" stroke-width="0.9"/>
<line x1="44.8" y1="392.19" x2="46.0" y2="392.19" stroke="#8c8c8c" stroke-width="0.9"/>
<line x1="248.0" y1="392.19" x2="246.8" y2="392.19" stroke="#8c8c8c" stroke-width="0.9"/>
<line x1="44.8" y1="389.56" x2="46.0" y2="389.56" stroke="#8c8c8c" stroke-width="0.9"/>
<line x1="248.0" y1="389.56" x2="246.8" y2="389.56" stroke="#8c8c8c" stroke-width="0.9"/>
<line x1="44.8" y1="387.53" x2="46.0" y2="387.53" stroke="#8c8c8c" stroke-width="0.9"/>
<line x1="248.0" y1="387.53" x2="246.8" y2="387.53" stroke="#8c8c8c" stroke-width="0.9"/>
<line x1="44.8" y1="385.86" x2="46.0" y2="385.86" stroke="#8c8c8c" stroke-width="0.9"/>
<line x1="248.0" y1="385.86" x2="246.8" y2="385.86" stroke="#8c8c8c" stroke-width="0.9"/>
<line x1="44.8" y1="384.46" x2="46.0" y2="384.46" stroke="#8c8c8c" stroke-width="0.9"/>
<line x1="248.0" y1="384.46" x2="246.8" y2="384.46" stroke="#8c8c8c" stroke-width="0.9"/>
<line x1="44.8" y1="383.24" x2="46.0" y2="383.24" stroke="#8c8c8c" stroke-width="0.9"/>
<line x1="248.0" y1="383.24" x2="246.8" y2="383.24" stroke="#8c8c8c" stroke-width="0.9"/>
<line x1="44.8" y1="382.16" x2="46.0" y2="382.16" stroke="#8c8c8c" stroke-width="0.9"/>
<line x1="248.0" y1="382.16" x2="246.8" y2="382.16" stroke="#8c8c8c" stroke-width="0.9"/>
<line x1="44.8" y1="374.87" x2="46.0" y2="374.87" stroke="#8c8c8c" stroke-width="0.9"/>
<line x1="248.0" y1="374.87" x2="246.8" y2="374.87" stroke="#8c8c8c" stroke-width="0.9"/>
<line x1="44.8" y1="371.17" x2="46.0" y2="371.17" stroke="#8c8c8c" stroke-width="0.9"/>
<line x1="248.0" y1="371.17" x2="246.8" y2="371.17" stroke="#8c8c8c" stroke-width="0.9"/>
<line x1="44.8" y1="368.54" x2="46.0" y2="368.54" stroke="#8c8c8c" stroke-width="0.9"/>
<line x1="248.0" y1="368.54" x2="246.8" y2="368.54" stroke="#8c8c8c" stroke-width="0.9"/>
<line x1="44.8" y1="366.51" x2="46.0" y2="366.51" stroke="#8c8c8c" stroke-width="0.9"/>
<line x1="248.0" y1="366.51" x2="246.8" y2="366.51" stroke="#8c8c8c" stroke-width="0.9"/>
<line x1="44.8" y1="364.84" x2="46.0" y2="364.84" stroke="#8c8c8c" stroke-width="0.9"/>
<line x1="248.0" y1="364.84" x2="246.8" y2="364.84" stroke="#8c8c8c" stroke-width="0.9"/>
<line x1="44.8" y1="363.44" x2="46.0" y2="363.44" stroke="#8c8c8c" stroke-width="0.9"/>
<line x1="248.0" y1="363.44" x2="246.8" y2="363.44" stroke="#8c8c8c" stroke-width="0.9"/>
<line x1="44.8" y1="362.22" x2="46.0" y2="362.22" stroke="#8c8c8c" stroke-width="0.9"/>
<line x1="248.0" y1="362.22" x2="246.8" y2="362.22" stroke="#8c8c8c" stroke-width="0.9"/>
<line x1="44.8" y1="361.14" x2="46.0" y2="361.14" stroke="#8c8c8c" stroke-width="0.9"/>
<line x1="248.0" y1="361.14" x2="246.8" y2="361.14" stroke="#8c8c8c" stroke-width="0.9"/>
<line x1="44.8" y1="381.20" x2="46.0" y2="381.20" stroke="#8c8c8c" stroke-width="0.9"/>
<line x1="248.0" y1="381.20" x2="246.8" y2="381.20" stroke="#8c8c8c" stroke-width="0.9"/>
<line x1="44.8" y1="353.85" x2="46.0" y2="353.85" stroke="#8c8c8c" stroke-width="0.9"/>
<line x1="248.0" y1="353.85" x2="246.8" y2="353.85" stroke="#8c8c8c" stroke-width="0.9"/>
<line x1="44.8" y1="350.15" x2="46.0" y2="350.15" stroke="#8c8c8c" stroke-width="0.9"/>
<line x1="248.0" y1="350.15" x2="246.8" y2="350.15" stroke="#8c8c8c" stroke-width="0.9"/>
<line x1="44.8" y1="347.52" x2="46.0" y2="347.52" stroke="#8c8c8c" stroke-width="0.9"/>
<line x1="248.0" y1="347.52" x2="246.8" y2="347.52" stroke="#8c8c8c" stroke-width="0.9"/>
<line x1="44.8" y1="345.49" x2="46.0" y2="345.49" stroke="#8c8c8c" stroke-width="0.9"/>
<line x1="248.0" y1="345.49" x2="246.8" y2="345.49" stroke="#8c8c8c" stroke-width="0.9"/>
<line x1="44.8" y1="343.82" x2="46.0" y2="343.82" stroke="#8c8c8c" stroke-width="0.9"/>
<line x1="248.0" y1="343.82" x2="246.8" y2="343.82" stroke="#8c8c8c" stroke-width="0.9"/>
<line x1="44.8" y1="342.42" x2="46.0" y2="342.42" stroke="#8c8c8c" stroke-width="0.9"/>
<line x1="248.0" y1="342.42" x2="246.8" y2="342.42" stroke="#8c8c8c" stroke-width="0.9"/>
<line x1="44.8" y1="341.20" x2="46.0" y2="341.20" stroke="#8c8c8c" stroke-width="0.9"/>
<line x1="248.0" y1="341.20" x2="246.8" y2="341.20" stroke="#8c8c8c" stroke-width="0.9"/>
<line x1="44.8" y1="340.12" x2="46.0" y2="340.12" stroke="#8c8c8c" stroke-width="0.9"/>
<line x1="248.0" y1="340.12" x2="246.8" y2="340.12" stroke="#8c8c8c" stroke-width="0.9"/>
<line x1="44.8" y1="332.83" x2="46.0" y2="332.83" stroke="#8c8c8c" stroke-width="0.9"/>
<line x1="248.0" y1="332.83" x2="246.8" y2="332.83" stroke="#8c8c8c" stroke-width="0.9"/>
<line x1="44.8" y1="329.13" x2="46.0" y2="329.13" stroke="#8c8c8c" stroke-width="0.9"/>
<line x1="248.0" y1="329.13" x2="246.8" y2="329.13" stroke="#8c8c8c" stroke-width="0.9"/>
<line x1="44.8" y1="326.50" x2="46.0" y2="326.50" stroke="#8c8c8c" stroke-width="0.9"/>
<line x1="248.0" y1="326.50" x2="246.8" y2="326.50" stroke="#8c8c8c" stroke-width="0.9"/>
<line x1="44.8" y1="324.47" x2="46.0" y2="324.47" stroke="#8c8c8c" stroke-width="0.9"/>
<line x1="248.0" y1="324.47" x2="246.8" y2="324.47" stroke="#8c8c8c" stroke-width="0.9"/>
<line x1="44.8" y1="322.80" x2="46.0" y2="322.80" stroke="#8c8c8c" stroke-width="0.9"/>
<line x1="248.0" y1="322.80" x2="246.8" y2="322.80" stroke="#8c8c8c" stroke-width="0.9"/>
<line x1="44.8" y1="321.40" x2="46.0" y2="321.40" stroke="#8c8c8c" stroke-width="0.9"/>
<line x1="248.0" y1="321.40" x2="246.8" y2="321.40" stroke="#8c8c8c" stroke-width="0.9"/>
<line x1="44.8" y1="320.18" x2="46.0" y2="320.18" stroke="#8c8c8c" stroke-width="0.9"/>
<line x1="248.0" y1="320.18" x2="246.8" y2="320.18" stroke="#8c8c8c" stroke-width="0.9"/>
<line x1="44.8" y1="319.10" x2="46.0" y2="319.10" stroke="#8c8c8c" stroke-width="0.9"/>
<line x1="248.0" y1="319.10" x2="246.8" y2="319.10" stroke="#8c8c8c" stroke-width="0.9"/>
<line x1="44.8" y1="339.16" x2="46.0" y2="339.16" stroke="#8c8c8c" stroke-width="0.9"/>
<line x1="248.0" y1="339.16" x2="246.8" y2="339.16" stroke="#8c8c8c" stroke-width="0.9"/>
<line x1="44.8" y1="311.81" x2="46.0" y2="311.81" stroke="#8c8c8c" stroke-width="0.9"/>
<line x1="248.0" y1="311.81" x2="246.8" y2="311.81" stroke="#8c8c8c" stroke-width="0.9"/>
<line x1="44.8" y1="308.11" x2="46.0" y2="308.11" stroke="#8c8c8c" stroke-width="0.9"/>
<line x1="248.0" y1="308.11" x2="246.8" y2="308.11" stroke="#8c8c8c" stroke-width="0.9"/>
<line x1="44.8" y1="305.48" x2="46.0" y2="305.48" stroke="#8c8c8c" stroke-width="0.9"/>
<line x1="248.0" y1="305.48" x2="246.8" y2="305.48" stroke="#8c8c8c" stroke-width="0.9"/>
<line x1="44.8" y1="303.45" x2="46.0" y2="303.45" stroke="#8c8c8c" stroke-width="0.9"/>
<line x1="248.0" y1="303.45" x2="246.8" y2="303.45" stroke="#8c8c8c" stroke-width="0.9"/>
<line x1="44.8" y1="301.78" x2="46.0" y2="301.78" stroke="#8c8c8c" stroke-width="0.9"/>
<line x1="248.0" y1="301.78" x2="246.8" y2="301.78" stroke="#8c8c8c" stroke-width="0.9"/>
<line x1="44.8" y1="300.38" x2="46.0" y2="300.38" stroke="#8c8c8c" stroke-width="0.9"/>
<line x1="248.0" y1="300.38" x2="246.8" y2="300.38" stroke="#8c8c8c" stroke-width="0.9"/>
<line x1="44.8" y1="299.16" x2="46.0" y2="299.16" stroke="#8c8c8c" stroke-width="0.9"/>
<line x1="248.0" y1="299.16" x2="246.8" y2="299.16" stroke="#8c8c8c" stroke-width="0.9"/>
<line x1="44.8" y1="298.08" x2="46.0" y2="298.08" stroke="#8c8c8c" stroke-width="0.9"/>
<line x1="248.0" y1="298.08" x2="246.8" y2="298.08" stroke="#8c8c8c" stroke-width="0.9"/>
<line x1="44.8" y1="290.79" x2="46.0" y2="290.79" stroke="#8c8c8c" stroke-width="0.9"/>
<line x1="248.0" y1="290.79" x2="246.8" y2="290.79" stroke="#8c8c8c" stroke-width="0.9"/>
<line x1="44.8" y1="287.09" x2="46.0" y2="287.09" stroke="#8c8c8c" stroke-width="0.9"/>
<line x1="248.0" y1="287.09" x2="246.8" y2="287.09" stroke="#8c8c8c" stroke-width="0.9"/>
<line x1="44.8" y1="284.46" x2="46.0" y2="284.46" stroke="#8c8c8c" stroke-width="0.9"/>
<line x1="248.0" y1="284.46" x2="246.8" y2="284.46" stroke="#8c8c8c" stroke-width="0.9"/>
<line x1="44.8" y1="282.43" x2="46.0" y2="282.43" stroke="#8c8c8c" stroke-width="0.9"/>
<line x1="248.0" y1="282.43" x2="246.8" y2="282.43" stroke="#8c8c8c" stroke-width="0.9"/>
<line x1="44.8" y1="280.76" x2="46.0" y2="280.76" stroke="#8c8c8c" stroke-width="0.9"/>
<line x1="248.0" y1="280.76" x2="246.8" y2="280.76" stroke="#8c8c8c" stroke-width="0.9"/>
<line x1="44.8" y1="279.36" x2="46.0" y2="279.36" stroke="#8c8c8c" stroke-width="0.9"/>
<line x1="248.0" y1="279.36" x2="246.8" y2="279.36" stroke="#8c8c8c" stroke-width="0.9"/>
<line x1="44.8" y1="278.14" x2="46.0" y2="278.14" stroke="#8c8c8c" stroke-width="0.9"/>
<line x1="248.0" y1="278.14" x2="246.8" y2="278.14" stroke="#8c8c8c" stroke-width="0.9"/>
<line x1="44.8" y1="277.06" x2="46.0" y2="277.06" stroke="#8c8c8c" stroke-width="0.9"/>
<line x1="248.0" y1="277.06" x2="246.8" y2="277.06" stroke="#8c8c8c" stroke-width="0.9"/>
<line x1="44.8" y1="297.12" x2="46.0" y2="297.12" stroke="#8c8c8c" stroke-width="0.9"/>
<line x1="248.0" y1="297.12" x2="246.8" y2="297.12" stroke="#8c8c8c" stroke-width="0.9"/>
<line x1="44.80" y1="486.3" x2="44.80" y2="484.3" stroke="#8c8c8c" stroke-width="0.9"/>
<line x1="44.80" y1="276.1" x2="44.80" y2="278.1" stroke="#8c8c8c" stroke-width="0.9"/>
<line x1="85.44" y1="486.3" x2="85.44" y2="484.3" stroke="#8c8c8c" stroke-width="0.9"/>
<line x1="85.44" y1="276.1" x2="85.44" y2="278.1" stroke="#8c8c8c" stroke-width="0.9"/>
<line x1="126.08" y1="486.3" x2="126.08" y2="484.3" stroke="#8c8c8c" stroke-width="0.9"/>
<line x1="126.08" y1="276.1" x2="126.08" y2="278.1" stroke="#8c8c8c" stroke-width="0.9"/>
<line x1="166.72" y1="486.3" x2="166.72" y2="484.3" stroke="#8c8c8c" stroke-width="0.9"/>
<line x1="166.72" y1="276.1" x2="166.72" y2="278.1" stroke="#8c8c8c" stroke-width="0.9"/>
<line x1="207.36" y1="486.3" x2="207.36" y2="484.3" stroke="#8c8c8c" stroke-width="0.9"/>
<line x1="207.36" y1="276.1" x2="207.36" y2="278.1" stroke="#8c8c8c" stroke-width="0.9"/>
<line x1="248.00" y1="486.3" x2="248.00" y2="484.3" stroke="#8c8c8c" stroke-width="0.9"/>
<line x1="248.00" y1="276.1" x2="248.00" y2="278.1" stroke="#8c8c8c" stroke-width="0.9"/>
<rect x="44.8" y="276.1" width="203.20" height="210.20" fill="none" stroke="#8c8c8c" stroke-width="1.1"/>
<g clip-path="url(#c5)" fill="none" stroke-width="2.2" stroke-linejoin="round" stroke-linecap="round">
<polyline points="46.5,315.9 48.4,318.7 50.6,320.3 52.2,321.4 53.9,324.2 55.3,328.0 56.1,331.9 57.2,337.4 57.3,340.0 58.4,370.3 59.9,400.6 60.7,411.4 65.2,411.4 67.5,431.8 84.9,431.8 87.2,453.8 91.0,455.3 95.5,456.4 248.4,456.4" stroke="#ff0000"/>
<polyline points="46.5,310.4 48.1,315.4 49.2,320.9 50.3,326.4 51.1,333.0 53.3,334.6 55.5,335.7 57.2,339.6 60.5,342.3 64.5,344.5 66.7,349.8 71.3,351.4 77.3,352.1 82.6,354.4 85.7,357.4 89.5,358.9 96.3,361.2 103.1,362.4 106.1,363.5 109.2,366.5 114.5,368.8 119.8,370.3 124.0,370.6 131.8,370.7 143.6,371.4 150.7,374.3 159.0,375.5 161.4,377.4 174.4,377.8 182.6,379.0 187.4,381.4 189.7,384.4 198.0,386.6 209.8,387.3 224.0,388.5 228.7,390.4 238.2,391.3 248.4,391.3" stroke="#ff00ff"/>
<polyline points="47.8,308.5 50.0,313.2 52.2,316.5 55.0,318.7 57.2,320.9 58.3,324.2 60.5,326.9 62.1,329.7 65.4,338.5 66.7,340.0 68.2,344.0 71.3,351.4 75.8,356.7 80.4,367.3 84.9,377.9 89.5,388.5 94.0,393.8 99.3,400.0 102.3,404.5 105.4,406.8 109.2,415.2 113.7,421.2 120.0,426.5 127.1,433.1 134.2,440.2 141.3,444.9 148.4,448.5 157.8,450.8 167.3,453.2 179.1,454.8 190.9,455.6 248.4,455.8" stroke="#00ff00"/>
<polyline points="47.3,309.9 53.3,311.5 55.0,315.4 56.6,317.6 59.9,320.9 63.2,324.2 65.4,328.0 66.0,329.7 68.7,332.4 70.9,337.4 71.3,340.0 73.5,350.6 78.1,359.7 82.6,365.8 85.7,369.5 89.5,372.6 93.2,375.6 96.3,380.9 98.5,385.5 100.8,394.5 103.8,398.3 106.9,405.2 109.2,411.2 110.7,416.7 114.5,425.8 118.2,437.9 120.0,442.6 124.7,446.1 127.1,450.8 130.6,452.5 136.5,454.4 143.6,456.0 248.4,456.7" stroke="#0000ff"/>
<polyline points="47.0,443.2 49.3,460.6 91.0,460.8 92.0,461.5 150.0,461.5 151.0,462.6 248.4,462.6" stroke="#000000"/>
</g>
<rect x="161.3" y="283.5" width="79.20" height="70.10" fill="#ffffff" stroke="#8c8c8c" stroke-width="1"/>
<line x1="164.6" y1="291.80" x2="194.8" y2="291.80" stroke="#ff0000" stroke-width="2.2"/>
<text x="197.6" y="294.40" font-size="9.5" fill="#000">DBO</text>
<line x1="164.6" y1="305.38" x2="194.8" y2="305.38" stroke="#ff00ff" stroke-width="2.2"/>
<text x="197.6" y="307.98" font-size="9.5" fill="#000">PSO</text>
<line x1="164.6" y1="318.96" x2="194.8" y2="318.96" stroke="#00ff00" stroke-width="2.2"/>
<text x="197.6" y="321.56" font-size="9.5" fill="#000">GWO</text>
<line x1="164.6" y1="332.54" x2="194.8" y2="332.54" stroke="#0000ff" stroke-width="2.2"/>
<text x="197.6" y="335.14" font-size="9.5" fill="#000">WOA</text>
<line x1="164.6" y1="346.12" x2="194.8" y2="346.12" stroke="#000000" stroke-width="2.2"/>
<text x="197.6" y="348.72" font-size="9.5" fill="#000">MSADBO</text>
<text x="44.80" y="500.6" text-anchor="middle" font-size="11" fill="#1e1e1e">0</text>
<text x="85.44" y="500.6" text-anchor="middle" font-size="11" fill="#1e1e1e">20</text>
<text x="126.08" y="500.6" text-anchor="middle" font-size="11" fill="#1e1e1e">40</text>
<text x="166.72" y="500.6" text-anchor="middle" font-size="11" fill="#1e1e1e">60</text>
<text x="207.36" y="500.6" text-anchor="middle" font-size="11" fill="#1e1e1e">80</text>
<text x="248.00" y="500.6" text-anchor="middle" font-size="11" fill="#1e1e1e">100</text>
<text x="41.1" y="280.70" text-anchor="end" font-size="11" fill="#1e1e1e">10<tspan dy="-4.8" font-size="8.2">10</tspan></text>
<text x="41.1" y="322.74" text-anchor="end" font-size="11" fill="#1e1e1e">10<tspan dy="-4.8" font-size="8.2">8</tspan></text>
<text x="41.1" y="364.78" text-anchor="end" font-size="11" fill="#1e1e1e">10<tspan dy="-4.8" font-size="8.2">6</tspan></text>
<text x="41.1" y="406.82" text-anchor="end" font-size="11" fill="#1e1e1e">10<tspan dy="-4.8" font-size="8.2">4</tspan></text>
<text x="41.1" y="448.86" text-anchor="end" font-size="11" fill="#1e1e1e">10<tspan dy="-4.8" font-size="8.2">2</tspan></text>
<text x="41.1" y="490.90" text-anchor="end" font-size="11" fill="#1e1e1e">10<tspan dy="-4.8" font-size="8.2">0</tspan></text>
<text x="97.00" y="515.9" font-size="12" textLength="100" lengthAdjust="spacingAndGlyphs" fill="#1e1e1e">number of iterations</text>
<text transform="translate(14.5,381) rotate(-90)" x="-30.30" y="0" font-size="12" textLength="60.6" lengthAdjust="spacingAndGlyphs" fill="#1e1e1e">fitness value</text>
<text transform="translate(146.9,269.0) scale(0.88,1)" text-anchor="middle" font-size="11.8" font-weight="normal" fill="#1e1e1e" style="stroke-width:0.4px">F5</text>
<line x1="338.0" y1="305.15" x2="537.9" y2="305.15" stroke="#ebebeb" stroke-width="0.8" stroke-dasharray="1,1.2"/>
<line x1="338.0" y1="324.31" x2="537.9" y2="324.31" stroke="#ebebeb" stroke-width="0.8" stroke-dasharray="1,1.2"/>
<line x1="338.0" y1="337.90" x2="537.9" y2="337.90" stroke="#ebebeb" stroke-width="0.8" stroke-dasharray="1,1.2"/>
<line x1="338.0" y1="348.45" x2="537.9" y2="348.45" stroke="#ebebeb" stroke-width="0.8" stroke-dasharray="1,1.2"/>
<line x1="338.0" y1="357.06" x2="537.9" y2="357.06" stroke="#ebebeb" stroke-width="0.8" stroke-dasharray="1,1.2"/>
<line x1="338.0" y1="364.35" x2="537.9" y2="364.35" stroke="#ebebeb" stroke-width="0.8" stroke-dasharray="1,1.2"/>
<line x1="338.0" y1="370.66" x2="537.9" y2="370.66" stroke="#ebebeb" stroke-width="0.8" stroke-dasharray="1,1.2"/>
<line x1="338.0" y1="376.22" x2="537.9" y2="376.22" stroke="#ebebeb" stroke-width="0.8" stroke-dasharray="1,1.2"/>
<line x1="338.0" y1="413.95" x2="537.9" y2="413.95" stroke="#ebebeb" stroke-width="0.8" stroke-dasharray="1,1.2"/>
<line x1="338.0" y1="433.11" x2="537.9" y2="433.11" stroke="#ebebeb" stroke-width="0.8" stroke-dasharray="1,1.2"/>
<line x1="338.0" y1="446.70" x2="537.9" y2="446.70" stroke="#ebebeb" stroke-width="0.8" stroke-dasharray="1,1.2"/>
<line x1="338.0" y1="457.25" x2="537.9" y2="457.25" stroke="#ebebeb" stroke-width="0.8" stroke-dasharray="1,1.2"/>
<line x1="338.0" y1="465.86" x2="537.9" y2="465.86" stroke="#ebebeb" stroke-width="0.8" stroke-dasharray="1,1.2"/>
<line x1="338.0" y1="473.15" x2="537.9" y2="473.15" stroke="#ebebeb" stroke-width="0.8" stroke-dasharray="1,1.2"/>
<line x1="338.0" y1="479.46" x2="537.9" y2="479.46" stroke="#ebebeb" stroke-width="0.8" stroke-dasharray="1,1.2"/>
<line x1="338.0" y1="485.02" x2="537.9" y2="485.02" stroke="#ebebeb" stroke-width="0.8" stroke-dasharray="1,1.2"/>
<line x1="338.0" y1="381.20" x2="537.9" y2="381.20" stroke="#e4e4e4" stroke-width="0.8"/>
<line x1="377.98" y1="272.4" x2="377.98" y2="490.0" stroke="#e4e4e4" stroke-width="0.8"/>
<line x1="417.96" y1="272.4" x2="417.96" y2="490.0" stroke="#e4e4e4" stroke-width="0.8"/>
<line x1="457.94" y1="272.4" x2="457.94" y2="490.0" stroke="#e4e4e4" stroke-width="0.8"/>
<line x1="497.92" y1="272.4" x2="497.92" y2="490.0" stroke="#e4e4e4" stroke-width="0.8"/>
<line x1="338.0" y1="272.40" x2="340.0" y2="272.40" stroke="#8c8c8c" stroke-width="0.9"/>
<line x1="537.9" y1="272.40" x2="535.9" y2="272.40" stroke="#8c8c8c" stroke-width="0.9"/>
<line x1="338.0" y1="381.20" x2="340.0" y2="381.20" stroke="#8c8c8c" stroke-width="0.9"/>
<line x1="537.9" y1="381.20" x2="535.9" y2="381.20" stroke="#8c8c8c" stroke-width="0.9"/>
<line x1="338.0" y1="490.00" x2="340.0" y2="490.00" stroke="#8c8c8c" stroke-width="0.9"/>
<line x1="537.9" y1="490.00" x2="535.9" y2="490.00" stroke="#8c8c8c" stroke-width="0.9"/>
<line x1="338.0" y1="305.15" x2="339.2" y2="305.15" stroke="#8c8c8c" stroke-width="0.9"/>
<line x1="537.9" y1="305.15" x2="536.6999999999999" y2="305.15" stroke="#8c8c8c" stroke-width="0.9"/>
<line x1="338.0" y1="324.31" x2="339.2" y2="324.31" stroke="#8c8c8c" stroke-width="0.9"/>
<line x1="537.9" y1="324.31" x2="536.6999999999999" y2="324.31" stroke="#8c8c8c" stroke-width="0.9"/>
<line x1="338.0" y1="337.90" x2="339.2" y2="337.90" stroke="#8c8c8c" stroke-width="0.9"/>
<line x1="537.9" y1="337.90" x2="536.6999999999999" y2="337.90" stroke="#8c8c8c" stroke-width="0.9"/>
<line x1="338.0" y1="348.45" x2="339.2" y2="348.45" stroke="#8c8c8c" stroke-width="0.9"/>
<line x1="537.9" y1="348.45" x2="536.6999999999999" y2="348.45" stroke="#8c8c8c" stroke-width="0.9"/>
<line x1="338.0" y1="357.06" x2="339.2" y2="357.06" stroke="#8c8c8c" stroke-width="0.9"/>
<line x1="537.9" y1="357.06" x2="536.6999999999999" y2="357.06" stroke="#8c8c8c" stroke-width="0.9"/>
<line x1="338.0" y1="364.35" x2="339.2" y2="364.35" stroke="#8c8c8c" stroke-width="0.9"/>
<line x1="537.9" y1="364.35" x2="536.6999999999999" y2="364.35" stroke="#8c8c8c" stroke-width="0.9"/>
<line x1="338.0" y1="370.66" x2="339.2" y2="370.66" stroke="#8c8c8c" stroke-width="0.9"/>
<line x1="537.9" y1="370.66" x2="536.6999999999999" y2="370.66" stroke="#8c8c8c" stroke-width="0.9"/>
<line x1="338.0" y1="376.22" x2="339.2" y2="376.22" stroke="#8c8c8c" stroke-width="0.9"/>
<line x1="537.9" y1="376.22" x2="536.6999999999999" y2="376.22" stroke="#8c8c8c" stroke-width="0.9"/>
<line x1="338.0" y1="413.95" x2="339.2" y2="413.95" stroke="#8c8c8c" stroke-width="0.9"/>
<line x1="537.9" y1="413.95" x2="536.6999999999999" y2="413.95" stroke="#8c8c8c" stroke-width="0.9"/>
<line x1="338.0" y1="433.11" x2="339.2" y2="433.11" stroke="#8c8c8c" stroke-width="0.9"/>
<line x1="537.9" y1="433.11" x2="536.6999999999999" y2="433.11" stroke="#8c8c8c" stroke-width="0.9"/>
<line x1="338.0" y1="446.70" x2="339.2" y2="446.70" stroke="#8c8c8c" stroke-width="0.9"/>
<line x1="537.9" y1="446.70" x2="536.6999999999999" y2="446.70" stroke="#8c8c8c" stroke-width="0.9"/>
<line x1="338.0" y1="457.25" x2="339.2" y2="457.25" stroke="#8c8c8c" stroke-width="0.9"/>
<line x1="537.9" y1="457.25" x2="536.6999999999999" y2="457.25" stroke="#8c8c8c" stroke-width="0.9"/>
<line x1="338.0" y1="465.86" x2="339.2" y2="465.86" stroke="#8c8c8c" stroke-width="0.9"/>
<line x1="537.9" y1="465.86" x2="536.6999999999999" y2="465.86" stroke="#8c8c8c" stroke-width="0.9"/>
<line x1="338.0" y1="473.15" x2="339.2" y2="473.15" stroke="#8c8c8c" stroke-width="0.9"/>
<line x1="537.9" y1="473.15" x2="536.6999999999999" y2="473.15" stroke="#8c8c8c" stroke-width="0.9"/>
<line x1="338.0" y1="479.46" x2="339.2" y2="479.46" stroke="#8c8c8c" stroke-width="0.9"/>
<line x1="537.9" y1="479.46" x2="536.6999999999999" y2="479.46" stroke="#8c8c8c" stroke-width="0.9"/>
<line x1="338.0" y1="485.02" x2="339.2" y2="485.02" stroke="#8c8c8c" stroke-width="0.9"/>
<line x1="537.9" y1="485.02" x2="536.6999999999999" y2="485.02" stroke="#8c8c8c" stroke-width="0.9"/>
<line x1="338.00" y1="490.0" x2="338.00" y2="488.0" stroke="#8c8c8c" stroke-width="0.9"/>
<line x1="338.00" y1="272.4" x2="338.00" y2="274.4" stroke="#8c8c8c" stroke-width="0.9"/>
<line x1="377.98" y1="490.0" x2="377.98" y2="488.0" stroke="#8c8c8c" stroke-width="0.9"/>
<line x1="377.98" y1="272.4" x2="377.98" y2="274.4" stroke="#8c8c8c" stroke-width="0.9"/>
<line x1="417.96" y1="490.0" x2="417.96" y2="488.0" stroke="#8c8c8c" stroke-width="0.9"/>
<line x1="417.96" y1="272.4" x2="417.96" y2="274.4" stroke="#8c8c8c" stroke-width="0.9"/>
<line x1="457.94" y1="490.0" x2="457.94" y2="488.0" stroke="#8c8c8c" stroke-width="0.9"/>
<line x1="457.94" y1="272.4" x2="457.94" y2="274.4" stroke="#8c8c8c" stroke-width="0.9"/>
<line x1="497.92" y1="490.0" x2="497.92" y2="488.0" stroke="#8c8c8c" stroke-width="0.9"/>
<line x1="497.92" y1="272.4" x2="497.92" y2="274.4" stroke="#8c8c8c" stroke-width="0.9"/>
<line x1="537.90" y1="490.0" x2="537.90" y2="488.0" stroke="#8c8c8c" stroke-width="0.9"/>
<line x1="537.90" y1="272.4" x2="537.90" y2="274.4" stroke="#8c8c8c" stroke-width="0.9"/>
<rect x="338.0" y="272.4" width="199.90" height="217.60" fill="none" stroke="#8c8c8c" stroke-width="1.1"/>
<g clip-path="url(#c8)" fill="none" stroke-width="2.2" stroke-linejoin="round" stroke-linecap="round">
<polyline points="340.9,324.1 344.2,325.2 345.9,331.8 347.5,337.3 350.3,338.4 351.4,346.6 355.2,347.1 359.6,347.7 362.4,348.8 367.9,349.0 370.1,349.9 384.4,350.4 386.5,351.5 390.0,351.5 403.3,352.3 406.1,354.9 418.4,355.9 427.9,356.4 446.8,358.7 460.1,359.7 466.2,360.6 478.5,360.9 487.8,361.7 491.7,363.7 506.4,364.3 528.0,364.8 532.6,365.9 535.7,367.9 537.8,368.3" stroke="#ff0000"/>
<polyline points="340.4,292.2 341.5,299.9 343.1,310.9 345.9,314.7 349.2,315.8 351.9,318.6 354.1,323.0 355.8,330.7 359.1,331.2 362.4,333.4 365.7,334.0 368.4,336.2 371.2,337.8 374.5,338.4 380.0,338.9 384.4,341.6 388.7,342.7 392.0,346.0 396.0,347.0 401.4,348.3 408.9,349.2 414.6,350.8 427.9,352.7 446.8,354.5 458.2,355.3 462.0,356.8 469.3,358.1 483.2,358.9 506.4,360.1 521.8,360.9 537.8,361.7" stroke="#ff00ff"/>
<polyline points="340.4,294.9 342.6,296.0 347.0,299.3 352.5,299.3 354.1,305.4 355.8,313.1 359.1,314.7 362.9,319.1 366.8,320.2 371.2,321.3 376.1,322.4 389.8,322.4 392.8,328.4 396.6,329.4 440.2,329.4 443.0,331.8 447.8,333.7 512.5,353.2 515.6,355.5 521.8,357.0 528.0,358.1 537.8,359.0" stroke="#00ff00"/>
<polyline points="340.2,301.0 340.9,312.0 342.0,328.5 342.6,340.0 343.7,351.0 345.9,352.1 347.5,356.5 349.2,362.0 350.8,367.5 351.9,375.2 355.8,375.7 537.8,376.2" stroke="#0000ff"/>
<polyline points="340.4,375.2 342.6,376.8 345.9,383.4 348.1,384.8 353.6,384.8 355.2,388.4 356.3,391.1 371.2,391.1 373.9,392.0 537.8,392.2" stroke="#000000"/>
</g>
<rect x="448.3" y="279.9" width="81.60" height="72.50" fill="#ffffff" stroke="#8c8c8c" stroke-width="1"/>
<line x1="451.5" y1="288.50" x2="482.4" y2="288.50" stroke="#ff0000" stroke-width="2.2"/>
<text x="485.6" y="290.90" font-size="9.8" fill="#000">DBO</text>
<line x1="451.5" y1="302.55" x2="482.4" y2="302.55" stroke="#ff00ff" stroke-width="2.2"/>
<text x="485.6" y="304.95" font-size="9.8" fill="#000">PSO</text>
<line x1="451.5" y1="316.60" x2="482.4" y2="316.60" stroke="#00ff00" stroke-width="2.2"/>
<text x="485.6" y="319.00" font-size="9.8" fill="#000">GWO</text>
<line x1="451.5" y1="330.65" x2="482.4" y2="330.65" stroke="#0000ff" stroke-width="2.2"/>
<text x="485.6" y="333.05" font-size="9.8" fill="#000">WOA</text>
<line x1="451.5" y1="344.70" x2="482.4" y2="344.70" stroke="#000000" stroke-width="2.2"/>
<text x="485.6" y="347.10" font-size="9.8" fill="#000">MSADBO</text>
<text x="338.00" y="504.8" text-anchor="middle" font-size="11.2" fill="#1e1e1e">0</text>
<text x="377.98" y="504.8" text-anchor="middle" font-size="11.2" fill="#1e1e1e">20</text>
<text x="417.96" y="504.8" text-anchor="middle" font-size="11.2" fill="#1e1e1e">40</text>
<text x="457.94" y="504.8" text-anchor="middle" font-size="11.2" fill="#1e1e1e">60</text>
<text x="497.92" y="504.8" text-anchor="middle" font-size="11.2" fill="#1e1e1e">80</text>
<text x="537.90" y="504.8" text-anchor="middle" font-size="11.2" fill="#1e1e1e">100</text>
<text x="334" y="277.10" text-anchor="end" font-size="11.2" fill="#1e1e1e">-10<tspan dy="-5" font-size="8.4">3</tspan></text>
<text x="334" y="385.90" text-anchor="end" font-size="11.2" fill="#1e1e1e">-10<tspan dy="-5" font-size="8.4">4</tspan></text>
<text x="334" y="494.70" text-anchor="end" font-size="11.2" fill="#1e1e1e">-10<tspan dy="-5" font-size="8.4">5</tspan></text>
<text x="387.00" y="522.0" font-size="12.5" textLength="103.6" lengthAdjust="spacingAndGlyphs" fill="#1e1e1e">number of iterations</text>
<text transform="translate(308,381.5) rotate(-90)" x="-31.70" y="0" font-size="12.5" textLength="63.4" lengthAdjust="spacingAndGlyphs" fill="#1e1e1e">fitness value</text>
<text transform="translate(438.6,265.3) scale(0.85,1)" text-anchor="middle" font-size="12.5" font-weight="normal" fill="#1e1e1e" style="stroke-width:0.15px">F8</text>
</svg>
</body></html>
